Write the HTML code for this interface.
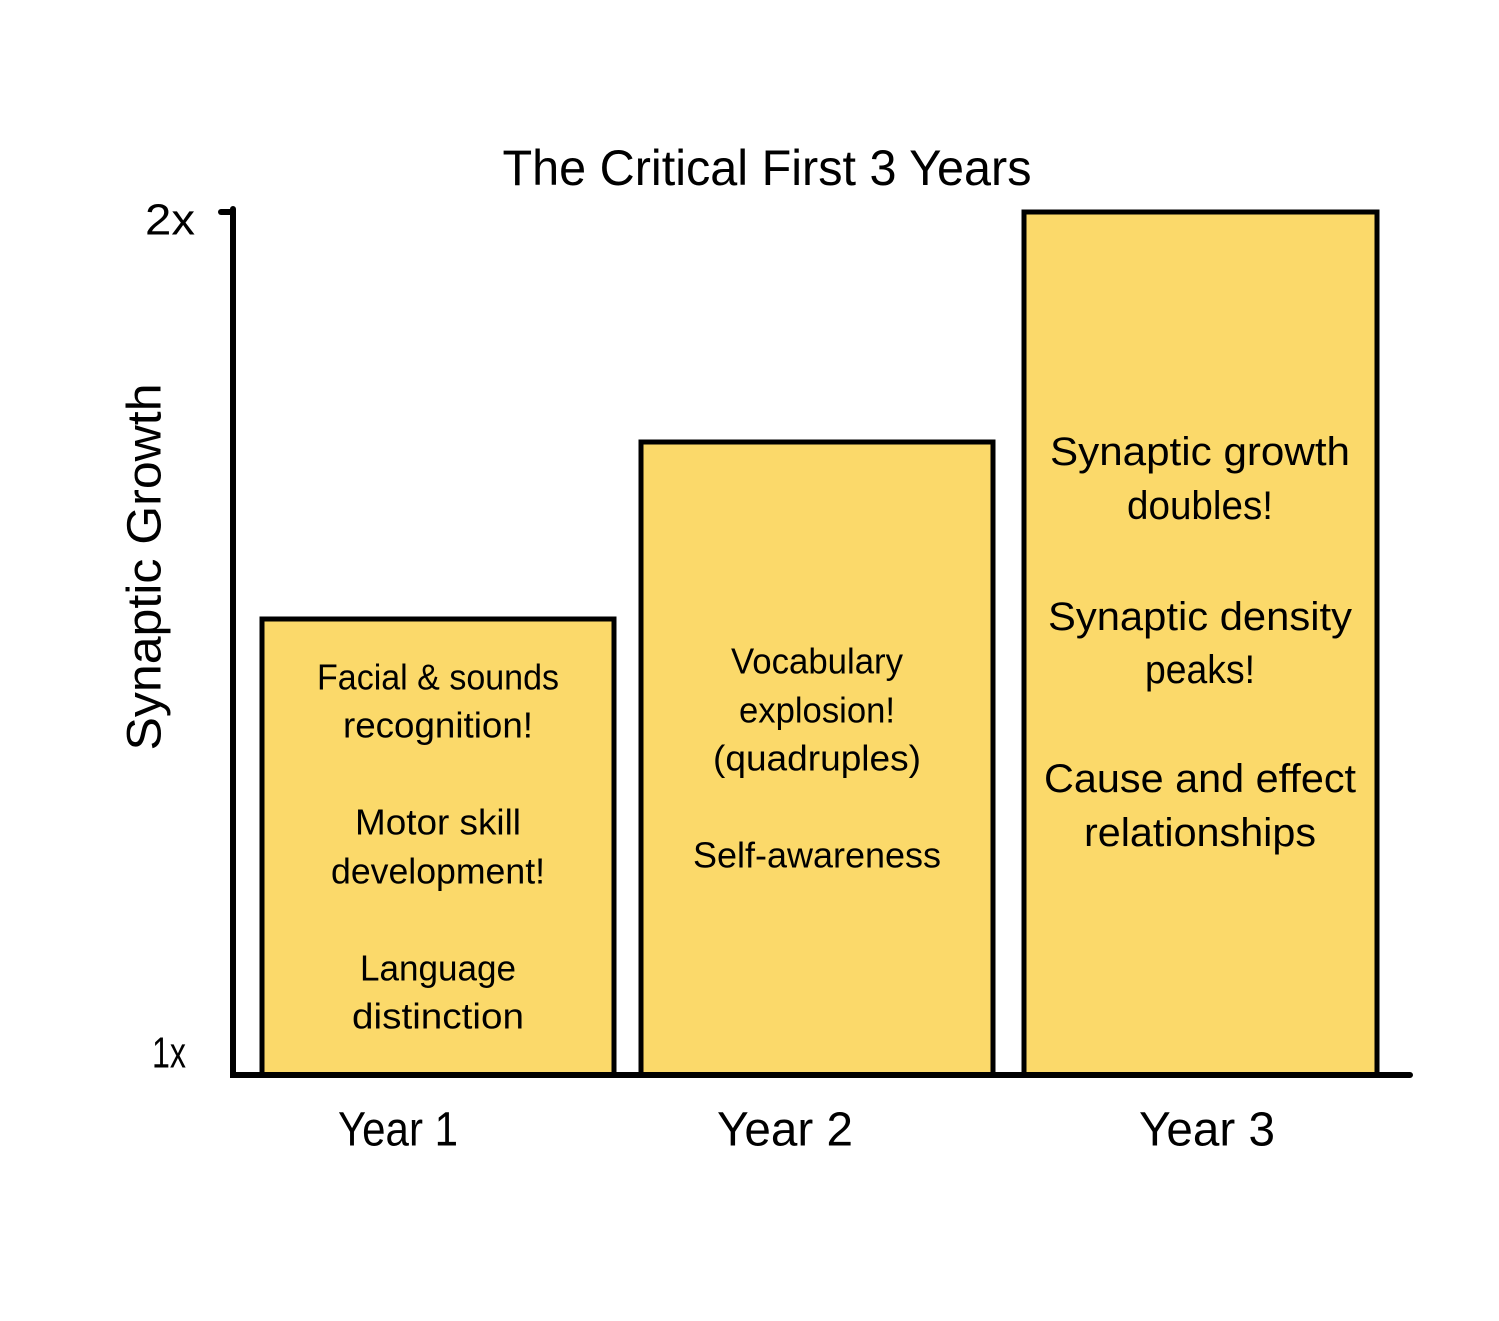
<!DOCTYPE html>
<html><head><meta charset="utf-8"><style>html,body{margin:0;padding:0;background:#fff}svg{display:block}text{font-family:"Liberation Sans Narrow","Liberation Sans",sans-serif;fill:#000}</style></head>
<body>
<svg width="1499" height="1321" viewBox="0 0 1499 1321" xmlns="http://www.w3.org/2000/svg">
<rect width="1499" height="1321" fill="#fff"/>
<g fill="#FBD96A" stroke="#000" stroke-width="5">
<rect x="262" y="619" width="352" height="456"/>
<rect x="641" y="442" width="352" height="633"/>
<rect x="1024" y="212" width="353" height="863"/>
</g>
<path d="M233 209 V1075 H1410" fill="none" stroke="#000" stroke-width="6" stroke-linecap="round"/>
<path d="M221 212 H233" stroke="#000" stroke-width="6" stroke-linecap="round"/>
<text x="767" y="168" font-size="50" text-anchor="middle" dominant-baseline="central" textLength="529" lengthAdjust="spacingAndGlyphs">The Critical First 3 Years</text>
<text x="170" y="220" font-size="44" text-anchor="middle" dominant-baseline="central" textLength="50" lengthAdjust="spacingAndGlyphs">2x</text>
<text x="169" y="1053" font-size="44" text-anchor="middle" dominant-baseline="central" textLength="34" lengthAdjust="spacingAndGlyphs">1x</text>
<text transform="translate(145,567) rotate(-90)" font-size="48" text-anchor="middle" dominant-baseline="central" textLength="367" lengthAdjust="spacingAndGlyphs">Synaptic Growth</text>
<g font-size="36" text-anchor="middle" dominant-baseline="central">
<text x="438" y="677" textLength="242" lengthAdjust="spacingAndGlyphs">Facial &amp; sounds</text>
<text x="438" y="725" textLength="190" lengthAdjust="spacingAndGlyphs">recognition!</text>
<text x="438" y="822" textLength="166" lengthAdjust="spacingAndGlyphs">Motor skill</text>
<text x="438" y="871" textLength="214" lengthAdjust="spacingAndGlyphs">development!</text>
<text x="438" y="968" textLength="156" lengthAdjust="spacingAndGlyphs">Language</text>
<text x="438" y="1016" textLength="172" lengthAdjust="spacingAndGlyphs">distinction</text>
<text x="817" y="661" textLength="172" lengthAdjust="spacingAndGlyphs">Vocabulary</text>
<text x="817" y="710" textLength="156" lengthAdjust="spacingAndGlyphs">explosion!</text>
<text x="817" y="758" textLength="208" lengthAdjust="spacingAndGlyphs">(quadruples)</text>
<text x="817" y="855" textLength="248" lengthAdjust="spacingAndGlyphs">Self-awareness</text>
</g>
<g font-size="40" text-anchor="middle" dominant-baseline="central">
<text x="1200" y="452" textLength="300" lengthAdjust="spacingAndGlyphs">Synaptic growth</text>
<text x="1200" y="506" textLength="146" lengthAdjust="spacingAndGlyphs">doubles!</text>
<text x="1200" y="617" textLength="304" lengthAdjust="spacingAndGlyphs">Synaptic density</text>
<text x="1200" y="670" textLength="110" lengthAdjust="spacingAndGlyphs">peaks!</text>
<text x="1200" y="779" textLength="312" lengthAdjust="spacingAndGlyphs">Cause and effect</text>
<text x="1200" y="833" textLength="232" lengthAdjust="spacingAndGlyphs">relationships</text>
</g>
<g font-size="48" text-anchor="middle" dominant-baseline="central">
<text x="398" y="1130" textLength="120" lengthAdjust="spacingAndGlyphs">Year 1</text>
<text x="785" y="1130" textLength="136" lengthAdjust="spacingAndGlyphs">Year 2</text>
<text x="1207" y="1130" textLength="136" lengthAdjust="spacingAndGlyphs">Year 3</text>
</g>
</svg>
</body></html>
